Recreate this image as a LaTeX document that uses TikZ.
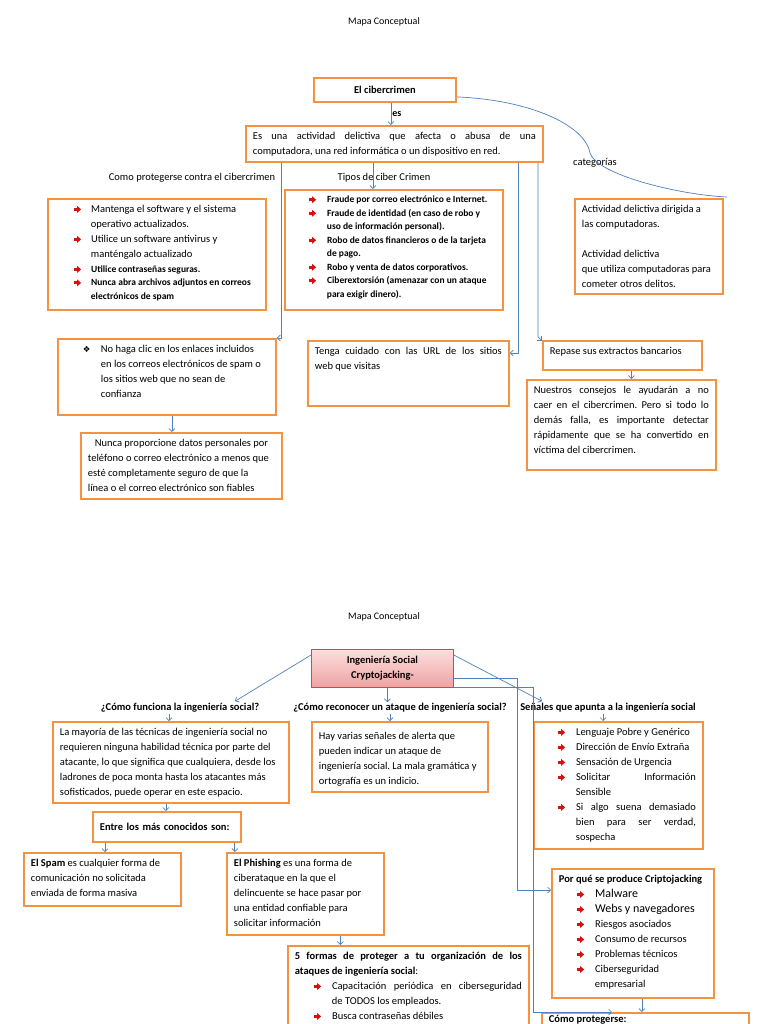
\documentclass[tikz,border=0pt]{standalone}
\usepackage{fontspec}
\setmainfont{Carlito}
\newfontfamily\dejavu{DejaVu Sans}
\usepackage{enumitem}
\usetikzlibrary{arrows.meta,positioning,calc}
\usepackage{xcolor}
\definecolor{boxorange}{RGB}{245,146,64}
\definecolor{connblue}{RGB}{79,129,189}
\definecolor{bulletred}{RGB}{215,16,16}
\definecolor{pinktop}{RGB}{253,222,222}
\definecolor{pinkbot}{RGB}{238,162,162}
\definecolor{pinkline}{RGB}{192,80,77}
\newcommand{\redarr}{\tikz[baseline={(0pt,-2.8pt)}]{\fill[bulletred] (0pt,-1.5pt) rectangle (3.8pt,1.5pt); \fill[bulletred] (3.2pt,-3.5pt) -- (7.2pt,0pt) -- (3.2pt,3.5pt) -- cycle;}}
\setlist[itemize]{nosep,align=left,labelwidth=7pt,label=\redarr}
\hbadness=10000
\frenchspacing
\tikzset{
  cbox/.style={draw=boxorange, line width=1.8pt, fill=white, anchor=north west, inner xsep=7pt, inner ysep=6pt},
  conn/.style={draw=connblue, line width=0.7pt, -{Straight Barb[length=3pt,width=6pt]}},
  cline/.style={draw=connblue, line width=0.7pt},
  lbl/.style={inner sep=1pt},
  maptitle/.style={inner sep=1pt, font=\fontsize{10}{12}\selectfont},
  boldlbl/.style={inner sep=1pt, font=\fontsize{10.5}{12}\selectfont\bfseries}
}
\begin{document}
\begin{tikzpicture}[x=1pt, y=-1pt, font=\fontsize{10.5}{15}\selectfont, >=Latex]
\useasboundingbox (0,0) rectangle (768,1024);
\clip (0,0) rectangle (768,1024);
\fill[white] (0,0) rectangle (768,1024);

\node[maptitle] (title1) at (384,22) {Mapa Conceptual};
\node[cbox, minimum width=142pt, minimum height=24pt, font=\fontsize{10.5}{12}\selectfont\bfseries] (cib) at (313,77) {El cibercrimen};
\node[cbox] (defi) at (245,125) {\parbox[t][24pt][t]{283pt}{Es una actividad delictiva que afecta o abusa de una\linebreak computadora, una red informática o un dispositivo en red.}};
\coordinate (catend) at (727,197);
\node[lbl] (catlbl) at (595,163) {categorías};
\node[cbox] (cat) at (574,198) {\parbox[t][83pt][t]{134pt}{\raggedright Actividad delictiva dirigida a\\ las computadoras.\\[15pt] Actividad delictiva\\ que utiliza computadoras para\\ cometer otros delitos.}};
\node[lbl] (protlbl) at (192,178) {Como protegerse contra el cibercrimen};
\node[lbl] (tiposlbl) at (384,178) {Tipos de ciber Crimen};
\node[cbox] (prot) at (47,198) {\parbox[t][99pt][t]{204pt}{\raggedright
  \begin{itemize}[leftmargin=36pt, labelsep=10pt]
  \item Mantenga el software y el sistema\\ operativo actualizados.
  \item Utilice un software antivirus y\\ manténgalo actualizado
  \item {\fontsize{9.5}{13.5}\selectfont\bfseries Utilice contraseñas seguras.}
  \item {\fontsize{9.5}{13.5}\selectfont\bfseries Nunca abra archivos adjuntos en correos\\ electrónicos de spam\par}
  \end{itemize}}};
\node[cbox] (tipos) at (284,189) {\parbox[t][108pt][t]{204pt}{\raggedright\fontsize{9.5}{13.5}\selectfont\bfseries
  \begin{itemize}[leftmargin=35pt, labelsep=11pt]
  \item Fraude por correo electrónico e Internet.
  \item Fraude de identidad (en caso de robo y\\ uso de información personal).
  \item Robo de datos financieros o de la tarjeta\\ de pago.
  \item Robo y venta de datos corporativos.
  \item Ciberextorsión (amenazar con un ataque\\ para exigir dinero).
  \end{itemize}}};
\node[cbox] (noclick) at (57,338) {\parbox[t][64pt][t]{204pt}{\raggedright
  \begin{itemize}[leftmargin=36pt, labelsep=10pt, labelwidth=8pt, label={\dejavu\fontsize{8.5}{8}\selectfont ❖}]
  \item No haga clic en los enlaces incluidos\\ en los correos electrónicos de spam o\\ los sitios web que no sean de\\ confianza
  \end{itemize}}};
\node[cbox] (nunca) at (80,432) {\parbox[t][54pt][t]{187pt}{\raggedright\hspace*{7pt}Nunca proporcione datos personales por\\ teléfono o correo electrónico a menos que\\ esté completamente seguro de que la\\ línea o el correo electrónico son fiables}};
\node[cbox] (tenga) at (307,340) {\parbox[t][53pt][t]{187pt}{Tenga cuidado con las URL de los sitios\linebreak web que visitas}};
\node[cbox] (repase) at (542,340) {\parbox[t][17pt][t]{145pt}{Repase sus extractos bancarios}};
\node[cbox] (nuestros) at (526,379) {\parbox[t][78pt][t]{175pt}{Nuestros consejos le ayudarán a no\linebreak caer en el cibercrimen. Pero si todo lo\linebreak demás falla, es importante detectar\linebreak rápidamente que se ha convertido en\linebreak víctima del cibercrimen.}};

\draw[conn] ([xshift=6pt]cib.south) -- node[lbl, right, font=\fontsize{10}{12}\selectfont\bfseries] (es) {es} ([xshift=6pt]cib.south |- defi.north);
\draw[cline] ([yshift=-7pt]cib.east) .. controls (530,100) and (585,125) .. (590,153) .. controls (597,175) and (680,195) .. (catend);
\draw[conn] ([xshift=-21pt]tipos.north |- defi.south) -- ([xshift=-21pt]tipos.north);
\draw[conn] ([xshift=5pt]noclick.north east |- defi.south) -- ([xshift=5pt]noclick.north east) -- (noclick.north east);
\draw[conn] ([xshift=9pt]tenga.north east |- defi.south) -- ([xshift=9pt,yshift=-13pt]tenga.north east) -- ([yshift=-13pt]tenga.north east);
\draw[conn] ([xshift=-4pt]repase.north west |- defi.south) -- ([xshift=-4pt,yshift=3pt]repase.north west) -- ([yshift=-1pt]repase.north west);
\draw[conn] ([xshift=9pt]repase.south) -- ([xshift=9pt]repase.south |- nuestros.north);
\draw[conn] ([xshift=5pt]noclick.south) -- ([xshift=5pt]noclick.south |- nunca.north);

\node[maptitle] (title2) at (384,617) {Mapa Conceptual};
\node[cbox, draw=pinkline, line width=0.8pt, top color=pinktop, bottom color=pinkbot, minimum width=142pt, minimum height=38pt, align=center, font=\fontsize{10.5}{15}\selectfont\bfseries] (ing) at (311,649) {Ingeniería Social\\Cryptojacking-};
\node[boldlbl] (funclbl) at (180,708) {¿Cómo funciona la ingeniería social?};
\node[boldlbl] (recolbl) at (400,708) {¿Cómo reconocer un ataque de ingeniería social?};
\node[boldlbl] (senlbl) at (608,708) {Señales que apunta a la ingeniería social};
\node[cbox] (mayoria) at (52,721) {\parbox[t][69pt][t]{222pt}{\raggedright La mayoría de las técnicas de ingeniería social no\\ requieren ninguna habilidad técnica por parte del\\ atacante, lo que significa que cualquiera, desde los\\ ladrones de poca monta hasta los atacantes más\\ sofisticados, puede operar en este espacio.}};
\node[cbox, minimum height=30pt, text width=134pt, align=left, font=\fontsize{10.5}{12}\selectfont\bfseries] (entre) at (92,811) {Entre los más conocidos son:};
\node[cbox] (spam) at (23,852) {\parbox[t][41pt][t]{143pt}{\raggedright\textbf{El Spam} es cualquier forma de\\ comunicación no solicitada\\ enviada de forma masiva}};
\node[cbox] (phish) at (226,852) {\parbox[t][70pt][t]{143pt}{\raggedright\textbf{El Phishing} es una forma de\\ ciberataque en la que el\\ delincuente se hace pasar por\\ una entidad confiable para\\ solicitar información}};
\node[cbox] (formas) at (287,945) {\parbox[t][103pt][t]{227pt}{\textbf{5 formas de proteger a tu organización de los\linebreak ataques de ingeniería social}:
  \begin{itemize}[leftmargin=37pt, labelsep=11pt]
  \item Capacitación periódica en ciberseguridad\linebreak de TODOS los empleados.
  \item Busca contraseñas débiles
  \end{itemize}}};
\node[cbox] (hay) at (311,721) {\parbox[t][58pt][t]{162pt}{\raggedright\vspace*{4pt}Hay varias señales de alerta que\\ pueden indicar un ataque de\\ ingeniería social. La mala gramática y\\ ortografía es un indicio.}};
\node[cbox] (senales) at (533,721) {\parbox[t][115pt][t]{155pt}{
  \begin{itemize}[leftmargin=35pt, labelsep=11pt]
  \item Lenguaje Pobre y Genérico
  \item Dirección de Envío Extraña
  \item Sensación de Urgencia
  \item Solicitar Información\linebreak Sensible
  \item Si algo suena demasiado\linebreak bien para ser verdad,\linebreak sospecha
  \end{itemize}}};
\node[cbox] (porque) at (551,868) {\parbox[t][117pt][t]{148pt}{\raggedright\textbf{Por qué se produce Criptojacking}
  \begin{itemize}[leftmargin=36pt, labelsep=11pt]
  \item {\fontsize{12}{16}\selectfont Malware}
  \item {\fontsize{12}{16}\selectfont Webs y navegadores}
  \item Riesgos asociados
  \item Consumo de recursos
  \item Problemas técnicos
  \item Ciberseguridad\\ empresarial
  \end{itemize}}};
\node[cbox, inner ysep=2pt] (como) at (541,1012) {\parbox[t][50pt][t]{193pt}{\textbf{Cómo protegerse:}}};

\draw[conn] ([yshift=-6pt]ing.north west) -- ([xshift=55pt,yshift=1pt]funclbl.north);
\draw[conn] ([xshift=5pt]ing.south) -- ([xshift=5pt]ing.south |- recolbl.north);
\draw[conn] ([yshift=-6pt]ing.north east) -- ([xshift=23pt,yshift=1pt]senlbl.north west);
\draw[conn] ([yshift=9pt]ing.south east) -| ([xshift=-34pt,yshift=-22pt]porque.north west) -- ([yshift=-22pt]porque.north west);
\draw[conn] (ing.south east) -| ([xshift=-8pt]como.north west) -- ([xshift=71pt]como.north west);
\draw[conn] ([xshift=-11pt]funclbl.south) -- ([xshift=-11pt]funclbl.south |- mayoria.north);
\draw[conn] ([xshift=-5pt]mayoria.south) -- ([xshift=-5pt]mayoria.south |- entre.north);
\draw[conn] ([xshift=13pt]entre.south west) -- ([xshift=13pt]entre.south west |- spam.north);
\draw[conn] ([xshift=-7pt]entre.south east) -- ([xshift=-7pt]entre.south east |- phish.north);
\draw[conn] ([xshift=35pt]phish.south) -- ([xshift=35pt]phish.south |- formas.north);
\draw[conn] ([xshift=-10pt]recolbl.south) -- ([xshift=-10pt]recolbl.south |- hay.north);
\draw[conn] ([xshift=-5pt]senlbl.south) -- ([xshift=-5pt]senlbl.south |- senales.north);
\draw[conn] ([xshift=9pt]porque.south) -- ([xshift=9pt]porque.south |- como.north);
\end{tikzpicture}
\end{document}
